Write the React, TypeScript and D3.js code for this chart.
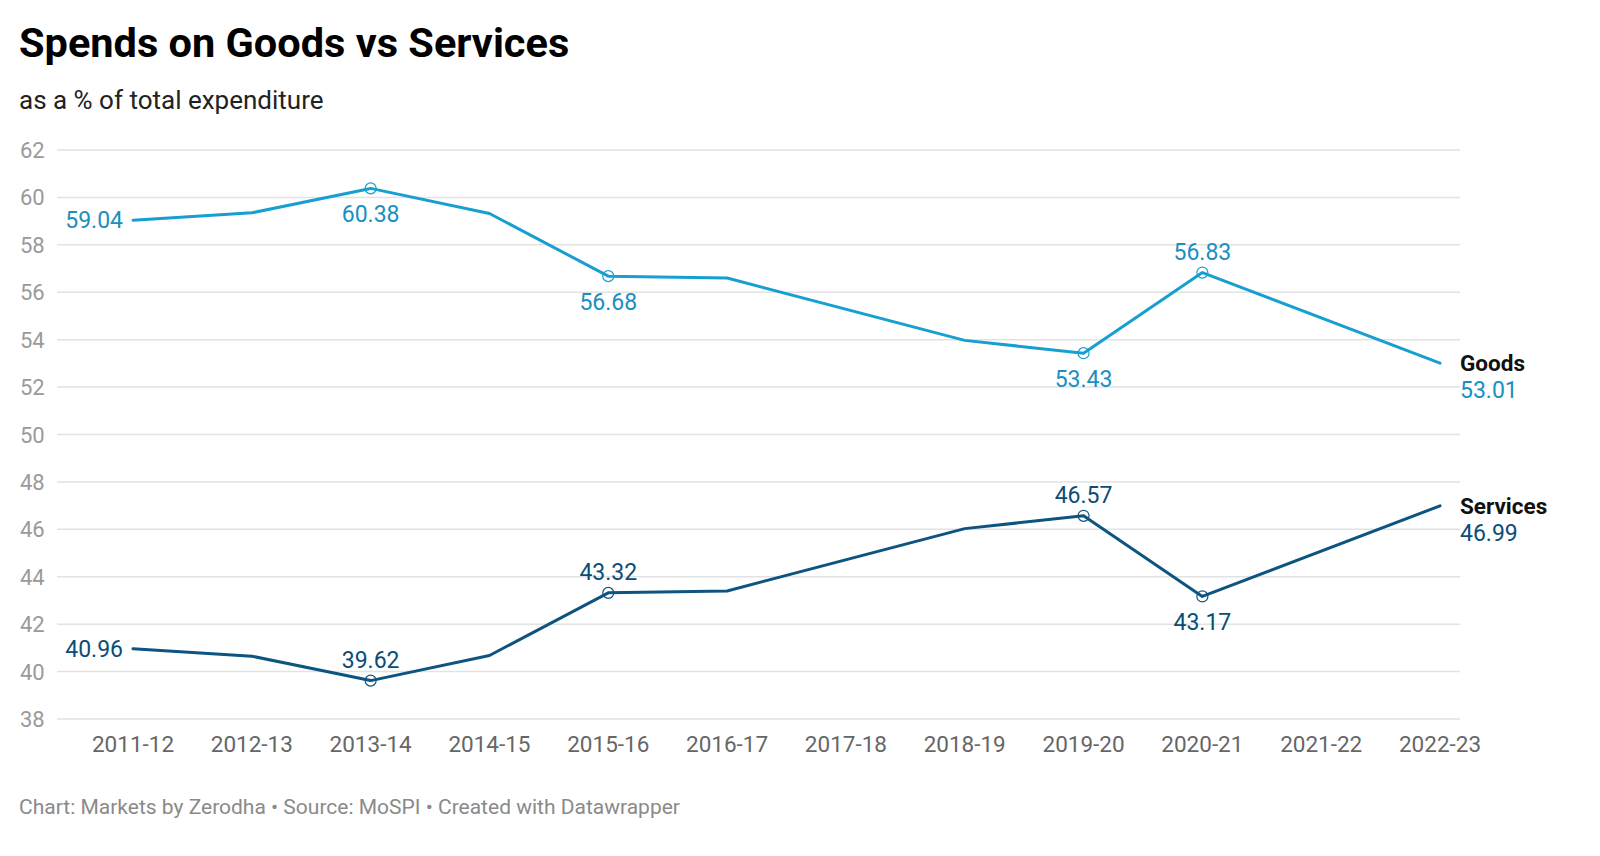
import * as React from 'react';
import { useEffect, useRef } from 'react';
import * as d3 from 'd3';

const years = ['2011-12', '2012-13', '2013-14', '2014-15', '2015-16', '2016-17', '2017-18', '2018-19', '2019-20', '2020-21', '2021-22', '2022-23'];
const goods: (number | null)[] = [59.04, 59.35, 60.38, 59.32, 56.68, 56.6, null, 53.97, 53.43, 56.83, null, 53.01];
const services: (number | null)[] = [40.96, 40.65, 39.62, 40.68, 43.32, 43.4, null, 46.03, 46.57, 43.17, null, 46.99];
const yTicks = [38, 40, 42, 44, 46, 48, 50, 52, 54, 56, 58, 60, 62];

// which points get a value label, and where
const goodsLabels: { [k: string]: string } = { '2011-12': 'left', '2013-14': 'below', '2015-16': 'below', '2019-20': 'below', '2020-21': 'above' };
const servicesLabels: { [k: string]: string } = { '2011-12': 'left', '2013-14': 'above', '2015-16': 'above', '2019-20': 'above', '2020-21': 'below' };

const FONT = 'Roboto, sans-serif';

export default function App() {
    const ref = useRef<SVGSVGElement>(null);

    useEffect(() => {
        const width = 1600, height = 856;
        const svg = d3.select(ref.current).attr('width', width).attr('height', height);
        svg.selectAll('*').remove();

        const x = d3.scalePoint<string>().domain(years).range([133, 1440]);
        const y = d3.scaleLinear().domain([38, 62]).range([719, 150]);

        svg.append('text').attr('x', 19).attr('y', 57)
            .attr('font-family', FONT).attr('font-weight', 700).attr('font-size', 41.5)
            .attr('fill', '#000').text('Spends on Goods vs Services');
        svg.append('text').attr('x', 19).attr('y', 109)
            .attr('font-family', FONT).attr('font-size', 26)
            .attr('fill', '#222').text('as a % of total expenditure');

        // grid + y labels
        const grid = svg.append('g');
        grid.selectAll('line').data(yTicks).enter().append('line')
            .attr('x1', 57).attr('x2', 1460)
            .attr('y1', (d) => y(d)).attr('y2', (d) => y(d))
            .attr('stroke', '#e2e2e2').attr('stroke-width', 1.5);
        grid.selectAll('text').data(yTicks).enter().append('text')
            .attr('x', 20).attr('y', (d) => y(d) + 8)
            .attr('font-family', FONT).attr('font-size', 22).attr('fill', '#9a9a9a')
            .text((d) => d);

        svg.append('g').selectAll('text').data(years).enter().append('text')
            .attr('x', (d) => x(d)!).attr('y', 752).attr('text-anchor', 'middle')
            .attr('font-family', FONT).attr('font-size', 22.5).attr('fill', '#666')
            .text((d) => d);

        const series = [
            { name: 'Goods', values: goods, color: '#179fd1', text: '#1a8fc0', labels: goodsLabels },
            { name: 'Services', values: services, color: '#0d5580', text: '#0b4d78', labels: servicesLabels },
        ];

        series.forEach((s) => {
            const pts = years.map((yr, i) => ({ yr, v: s.values[i] })).filter((p) => p.v !== null) as { yr: string, v: number }[];
            const line = d3.line<{ yr: string, v: number }>().x((p) => x(p.yr)!).y((p) => y(p.v));
            svg.append('path').datum(pts).attr('d', line)
                .attr('fill', 'none').attr('stroke', s.color).attr('stroke-width', 3)
                .attr('stroke-linejoin', 'round').attr('stroke-linecap', 'round');

            const g = svg.append('g');
            pts.filter((p) => s.labels[p.yr]).forEach((p) => {
                const px = x(p.yr)!, py = y(p.v);
                const pos = s.labels[p.yr];
                if (pos !== 'left') {
                    g.append('circle').attr('cx', px).attr('cy', py).attr('r', 5.5)
                        .attr('fill', 'none').attr('stroke', s.color).attr('stroke-width', 1.2);
                }
                const t = g.append('text').attr('font-family', FONT).attr('font-size', 23)
                    .attr('fill', s.text).text(p.v.toFixed(2));
                if (pos === 'left') t.attr('x', px - 10).attr('y', py + 8).attr('text-anchor', 'end');
                else if (pos === 'above') t.attr('x', px).attr('y', py - 13).attr('text-anchor', 'middle');
                else t.attr('x', px).attr('y', py + 34).attr('text-anchor', 'middle');
            });

            const last = pts[pts.length - 1];
            const lx = x(last.yr)! + 20, ly = y(last.v);
            svg.append('text').attr('x', lx).attr('y', ly + 8)
                .attr('font-family', FONT).attr('font-weight', 700).attr('font-size', 22.5)
                .attr('fill', '#111').text(s.name);
            svg.append('text').attr('x', lx).attr('y', ly + 35)
                .attr('font-family', FONT).attr('font-size', 23)
                .attr('fill', s.text).text(last.v.toFixed(2));
        });

        svg.append('text').attr('x', 19).attr('y', 814)
            .attr('font-family', FONT).attr('font-size', 21).attr('fill', '#8a8a8a')
            .text('Chart: Markets by Zerodha • Source: MoSPI • Created with Datawrapper');
    }, []);

    return (
        <svg ref={ref} style={{ position: 'absolute', left: 0, top: 0, background: '#fff' }}></svg>
    );
}
